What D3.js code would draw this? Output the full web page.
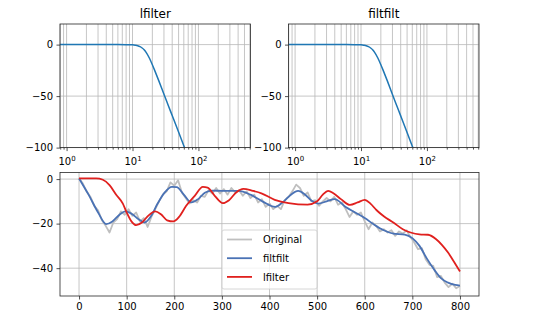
<!DOCTYPE html>
<html><head><meta charset="utf-8">
<script src="https://cdn.jsdelivr.net/npm/d3@7"></script>
<style>body{margin:0;background:#fff} text{font-family:"DejaVu Sans",sans-serif}</style>
</head><body><svg id="c" width="535" height="330"></svg>
<script>
// ---- frequency response ----
const freqHz      = [0.79, 1, 2, 4, 6, 8, 9, 10, 11, 12, 13, 14, 15, 16, 18, 20, 22, 25, 30, 35, 40, 50, 60, 70, 80];
const lfilterDb   = [0, 0, 0, 0, 0, -0.05, -0.1, -0.25, -0.6, -1.1, -2, -3.3, -5, -7.3, -13, -19.5, -26, -35, -48.3, -59.3, -68.9, -84.9, -98.2, -109.3, -118.9];
const filtfiltDb  = [0, 0, 0, 0, 0, -0.05, -0.1, -0.25, -0.6, -1.1, -2, -3.3, -5, -7.3, -13, -19.5, -26, -35, -48.5, -59.6, -69.2, -85.3, -98.6, -109.7, -119.3];
const freqMajorTicks = [1, 10, 100];
const freqTickExp = ["0", "1", "2"];
const dbTicks = [0, -50, -100];

// ---- time series ----
const origStep = 8;
const originalVals = [0.5,-2,-5.5,-8,-12,-14,-18.5,-21,-24,-19.5,-18,-14.5,-16,-13.5,-16.5,-15,-19,-17.5,-21.5,-17,
 -13.5,-10,-7,-5.5,-1.5,-3,-0.5,-6,-8.5,-11,-9.5,-10.5,-7.5,-8,-5,-6.5,-4,-6.5,-4.5,-7,
 -4,-6,-5,-7.5,-5.5,-8.5,-7,-10.5,-9,-12.5,-11,-13.5,-12,-13.5,-9.5,-8,-5.5,-2.5,-4,-7.5,
 -6,-10,-9.5,-12,-10,-8.5,-10,-8,-11.5,-10.5,-13.5,-17,-14.5,-16,-15,-19,-22.5,-19.5,-21,-23.5,
 -22.5,-24,-23,-25.5,-23.5,-24.5,-23,-26,-28.5,-31.5,-31,-36,-38.5,-39,-44,-43.5,-46.5,-48.5,-47,-49,-48];
const filtfiltT = [0,20,40,57,70,85,97,110,125,138,150,165,180,195,205,220,236,250,265,280,300,335,360,385,412,430,445,460,475,490,502,520,537,560,580,600,620,640,660,684,700,715,730,747,760,775,790,800];
const filtfiltV = [0.3,-7,-15,-20.2,-19,-16,-14.5,-15.5,-18,-19.5,-17,-11,-6,-3.5,-3.6,-7,-10.5,-9,-6,-5.2,-5.3,-5.3,-7,-10,-12.5,-10,-7,-5.3,-7,-10,-11,-10,-9,-12.5,-15,-17.5,-20.5,-23,-24.5,-24.9,-26.5,-30,-35.5,-41,-44.5,-46.5,-47.5,-47.8];
const lfilterT = [0,20,36,50,64,78,92,100,110,120,132,145,160,172,185,198,210,225,243,260,270,285,302,315,330,345,365,383,411,440,480,500,512,523,535,550,569,585,600,612,625,640,660,680,698,715,733,750,762,775,790,800];
const lfilterV = [0.3,0.3,0.3,-0.3,-2.7,-7,-11,-15,-19,-20.7,-19.5,-16.5,-14.5,-15.8,-18.5,-19,-17,-12,-7.5,-3.5,-3.8,-7.5,-10.8,-9.5,-6,-4.4,-5.3,-6.4,-9.3,-10.8,-11.5,-10,-7,-5.3,-6.5,-9,-11.6,-10.5,-9.3,-11,-14,-16.7,-19.5,-22.5,-24.1,-24.8,-25,-27,-29.5,-33,-38,-41.5];
const timeTicks = [0,100,200,300,400,500,600,700,800];
const valueTicks = [0,-20,-40];
const legendLabels = ["Original", "filtfilt", "lfilter"];
const titles = ["lfilter", "filtfilt"];

const colOrig = "#bfbfbf", colFF = "#4a72b5", colLF = "#e0201e", colResp = "#1f77b4";
const svg = d3.select("#c");
const frameCol = "#262626", gridCol = "#b8b8b8";

function styleAxis(g){
  g.select(".domain").remove();
  g.selectAll(".tick line").attr("stroke", frameCol).attr("stroke-width", 0.8);
  g.selectAll(".tick text").attr("fill", "#000").attr("font-size", 10);
}

function minorTicks(dom){
  const out = [];
  for (let e = -1; e <= 3; e++) for (let m = 1; m <= 9; m++){
    const v = m * Math.pow(10, e);
    if (v >= dom[0] && v <= dom[1]) out.push(v);
  }
  return out;
}

// ---- top panels ----
const topY0 = 24, topH = 123.6, panW = 190.5;
const panelsX = [60, 288.5];
const respData = [lfilterDb, filtfiltDb];
panelsX.forEach((px, i) => {
  const x = d3.scaleLog().domain([Math.pow(10,-0.1), Math.pow(10,2.79)]).range([px, px + panW]);
  const y = d3.scaleLinear().domain([-100, 20]).range([topY0 + topH, topY0]);
  const g = svg.append("g");
  g.append("rect").attr("x", px).attr("y", topY0).attr("width", panW).attr("height", topH).attr("fill", "#fff");
  const allX = minorTicks(x.domain());
  g.selectAll(".vg").data(allX).join("line")
    .attr("x1", d => x(d)).attr("x2", d => x(d)).attr("y1", topY0).attr("y2", topY0 + topH)
    .attr("stroke", gridCol).attr("stroke-width", 0.8);
  g.selectAll(".hg").data(dbTicks).join("line")
    .attr("x1", px).attr("x2", px + panW).attr("y1", d => y(d)).attr("y2", d => y(d))
    .attr("stroke", gridCol).attr("stroke-width", 0.8);
  const cid = "clipTop" + i;
  svg.append("clipPath").attr("id", cid).append("rect").attr("x", px).attr("y", topY0).attr("width", panW).attr("height", topH);
  const line = d3.line().x((d, k) => x(freqHz[k])).y(d => y(d)).curve(d3.curveMonotoneX);
  g.append("path").datum(respData[i]).attr("d", line).attr("fill", "none")
    .attr("stroke", colResp).attr("stroke-width", 1.5).attr("clip-path", `url(#${cid})`);
  const minorOnly = allX.filter(v => !freqMajorTicks.includes(v));
  const gm = g.append("g").attr("transform", `translate(0,${topY0 + topH})`)
    .call(d3.axisBottom(x).tickValues(minorOnly).tickSize(2).tickFormat(""));
  styleAxis(gm);
  const gx = g.append("g").attr("transform", `translate(0,${topY0 + topH})`)
    .call(d3.axisBottom(x).tickValues(freqMajorTicks).tickSize(3.5).tickPadding(3.5).tickFormat(""));
  styleAxis(gx);
  gx.selectAll(".tick").append("text").attr("y", 17.5).attr("text-anchor", "middle")
    .attr("font-size", 10).attr("fill", "#000")
    .each(function(d, k){
      const t = d3.select(this);
      t.append("tspan").text("10");
      t.append("tspan").attr("dy", -4.5).attr("font-size", 7).text(freqTickExp[k]);
    });
  const gy = g.append("g").attr("transform", `translate(${px},0)`)
    .call(d3.axisLeft(y).tickValues(dbTicks).tickSize(3.5).tickPadding(3.5).tickFormat(d => d3.format("d")(d).replace("-", "\u2212")));
  styleAxis(gy);
  g.append("rect").attr("x", px).attr("y", topY0).attr("width", panW).attr("height", topH)
    .attr("fill", "none").attr("stroke", frameCol).attr("stroke-width", 0.8);
  g.append("text").attr("x", px + panW / 2).attr("y", 18).attr("text-anchor", "middle")
    .attr("font-size", 12).attr("fill", "#000").text(titles[i]);
});

// ---- bottom panel ----
const bX0 = 60, bW = 419, bY0 = 172.4, bH = 123.6;
const xb = d3.scaleLinear().domain([-40, 840]).range([bX0, bX0 + bW]);
const yb = d3.scaleLinear().domain([-52.5, 3]).range([bY0 + bH, bY0]);
const gb = svg.append("g");
gb.append("rect").attr("x", bX0).attr("y", bY0).attr("width", bW).attr("height", bH).attr("fill", "#fff");
gb.selectAll(".vg").data(timeTicks).join("line")
  .attr("x1", d => xb(d)).attr("x2", d => xb(d)).attr("y1", bY0).attr("y2", bY0 + bH)
  .attr("stroke", gridCol).attr("stroke-width", 0.8);
gb.selectAll(".hg").data(valueTicks).join("line")
  .attr("x1", bX0).attr("x2", bX0 + bW).attr("y1", d => yb(d)).attr("y2", d => yb(d))
  .attr("stroke", gridCol).attr("stroke-width", 0.8);
svg.append("clipPath").attr("id", "clipB").append("rect").attr("x", bX0).attr("y", bY0).attr("width", bW).attr("height", bH);
const lineOrig = d3.line().x((d, k) => xb(k * origStep)).y(d => yb(d));
gb.append("path").datum(originalVals).attr("d", lineOrig).attr("fill", "none")
  .attr("stroke", colOrig).attr("stroke-width", 1.8).attr("stroke-linejoin", "round").attr("clip-path", "url(#clipB)");
const lineFF = d3.line().x((d, k) => xb(filtfiltT[k])).y(d => yb(d)).curve(d3.curveMonotoneX);
gb.append("path").datum(filtfiltV).attr("d", lineFF).attr("fill", "none")
  .attr("stroke", colFF).attr("stroke-width", 1.8).attr("clip-path", "url(#clipB)");
const lineLF = d3.line().x((d, k) => xb(lfilterT[k])).y(d => yb(d)).curve(d3.curveMonotoneX);
gb.append("path").datum(lfilterV).attr("d", lineLF).attr("fill", "none")
  .attr("stroke", colLF).attr("stroke-width", 1.8).attr("clip-path", "url(#clipB)");
const gbx = gb.append("g").attr("transform", `translate(0,${bY0 + bH})`)
  .call(d3.axisBottom(xb).tickValues(timeTicks).tickSize(3.5).tickPadding(3.5).tickFormat(d3.format("d")));
styleAxis(gbx);
const gby = gb.append("g").attr("transform", `translate(${bX0},0)`)
  .call(d3.axisLeft(yb).tickValues(valueTicks).tickSize(3.5).tickPadding(3.5).tickFormat(d => d3.format("d")(d).replace("-", "\u2212")));
styleAxis(gby);
gb.append("rect").attr("x", bX0).attr("y", bY0).attr("width", bW).attr("height", bH)
  .attr("fill", "none").attr("stroke", frameCol).attr("stroke-width", 0.8);

// legend
const lg = gb.append("g");
lg.append("rect").attr("x", 222).attr("y", 230).attr("width", 95).attr("height", 59).attr("rx", 2)
  .attr("fill", "#fff").attr("fill-opacity", 0.8).attr("stroke", "#cccccc").attr("stroke-width", 0.8);
const legCols = [colOrig, colFF, colLF];
legendLabels.forEach((lab, i) => {
  const yy = 239.5 + i * 18.7;
  lg.append("line").attr("x1", 227).attr("x2", 252).attr("y1", yy).attr("y2", yy)
    .attr("stroke", legCols[i]).attr("stroke-width", 1.8);
  lg.append("text").attr("x", 263).attr("y", yy + 3.6).attr("font-size", 10).attr("fill", "#000").text(lab);
});
</script>
</body></html>
